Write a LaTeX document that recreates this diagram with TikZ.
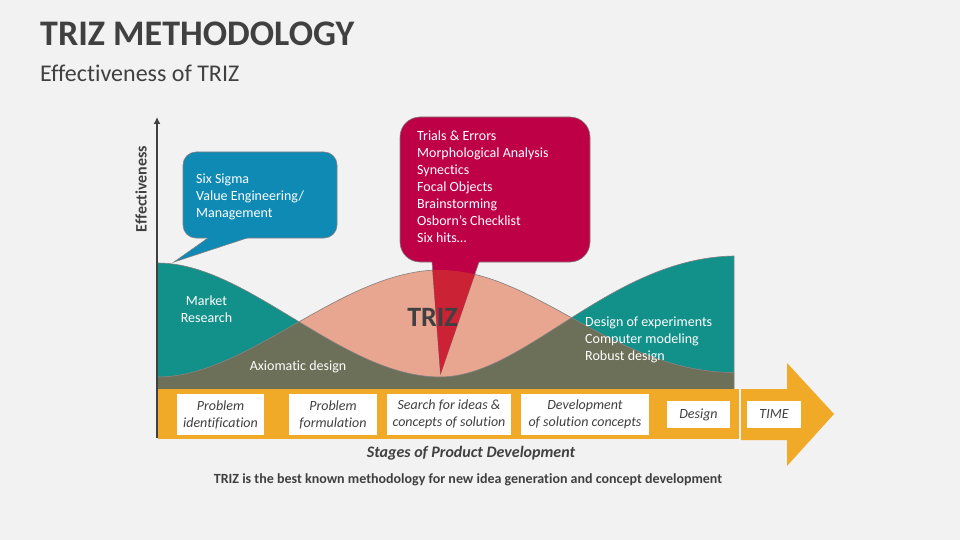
\documentclass[tikz,border=0pt]{standalone}
\usepackage{fontspec}
\setmainfont[Ligatures=NoCommon]{Carlito}
\usetikzlibrary{arrows.meta}
\definecolor{bgcol}{HTML}{F2F2F2}
\definecolor{txtcol}{HTML}{404040}
\definecolor{tealcol}{HTML}{12918A}
\definecolor{olivecol}{HTML}{6D7058}
\definecolor{salmoncol}{HTML}{E8A58F}
\definecolor{bluecol}{HTML}{0E8AB5}
\definecolor{crimsoncol}{HTML}{BE0046}
\definecolor{redcol}{HTML}{CB2335}
\definecolor{orangecol}{HTML}{F0AA27}
\tikzset{
  whitetxt/.style={text=white,inner sep=0pt,font=\fontsize{14}{17}\selectfont,align=left},
  stagebox/.style={fill=white,text=txtcol,inner sep=0pt,font=\fontsize{14}{17}\selectfont\itshape,align=center},
  callout/.style={draw=gray,line width=0.6pt,rounded corners=#1},
  tailline/.style={draw=gray,line width=0.6pt},
}
\newcommand{\curveone}{(158,263) .. controls (248,263) and (342,377) .. (440,377) .. controls (525,377) and (610,258) .. (734,256)}
\newcommand{\curvetwo}{(158,377) .. controls (248,377) and (342,270) .. (440,270) .. controls (535,270) and (615,372.5) .. (734,372.5)}
\begin{document}
\begin{tikzpicture}[x=1pt,y=-1pt]
  \fill[bgcol] (0,0) rectangle (960,540);
  \useasboundingbox (0,0) rectangle (960,540);
  \node[anchor=west,inner sep=0pt,text=txtcol,font=\fontsize{36}{40}\selectfont\bfseries] (title) at (40,34) {TRIZ METHODOLOGY};
  \node[anchor=west,inner sep=0pt,text=txtcol,font=\fontsize{24}{28}\selectfont] (subtitle) at (40,73) {Effectiveness of TRIZ};
  % hills
  \fill[tealcol] \curveone -- (734,389) -- (158,389) -- cycle;
  \fill[salmoncol] \curvetwo -- (734,389) -- (158,389) -- cycle;
  \begin{scope}
    \clip \curveone -- (734,389) -- (158,389) -- cycle;
    \fill[olivecol] \curvetwo -- (734,389) -- (158,389) -- cycle;
  \end{scope}
  \draw[gray,line width=0.6pt] \curveone -- (734,389);
  \draw[gray,line width=0.6pt] \curvetwo;
  % callouts
  \draw[callout=13,fill=bluecol] (183,152) rectangle (337,238);
  \draw[tailline,fill=bluecol] (208,238) -- (174,262) -- (247,238);
  \fill[bluecol] (207,235) rectangle (248,238.4);
  \draw[callout=20,fill=crimsoncol] (400,117) rectangle (590,262);
  \draw[tailline,fill=crimsoncol] (432,262) -- (440.5,374) -- (479,262);
  \fill[crimsoncol] (431,258) rectangle (480,262.4);
  \begin{scope}
    \clip \curvetwo -- (734,389) -- (158,389) -- cycle;
    \fill[redcol] (432,262) -- (440.5,374) -- (479,262) -- cycle;
  \end{scope}
  % bar and arrow
  \fill[orangecol] (158,389) rectangle (739,439);
  \fill[orangecol] (741,389) -- (787,389) -- (787,363) -- (834,414) -- (787,466) -- (787,440) -- (741,440) -- cycle;
  \coordinate (axisO) at (157,438);
  \coordinate (axisT) at (157,117);
  \draw[-{Latex[length=7pt,width=7pt]},line width=1.7pt,txtcol] (axisO) -- (axisT);
  % stages
  \node[stagebox,minimum width=87pt,minimum height=41pt] (stageA) at (220.5,414.5) {Problem\\identification};
  \node[stagebox,minimum width=88pt,minimum height=41pt] (stageB) at (333,414.5) {Problem\\formulation};
  \node[stagebox,minimum width=124pt,minimum height=41pt] (stageC) at (449,414.5) {Search for ideas \&\\concepts of solution};
  \node[stagebox,minimum width=128pt,minimum height=41pt] (stageD) at (585,414.5) {Development\\of solution concepts};
  \node[stagebox,minimum width=63pt,minimum height=27pt] (stageE) at (698.5,414.5) {Design};
  \node[stagebox,minimum width=54pt,minimum height=27pt] (stageF) at (774,414.5) {TIME};
  % labels
  \node[whitetxt,anchor=west] (sigma) at (196,197) {Six Sigma\\Value Engineering/\\Management};
  \node[whitetxt,anchor=west] (trials) at (417,186.5) {Trials \& Errors\\Morphological Analysis\\Synectics\\Focal Objects\\Brainstorming\\Osborn’s Checklist\\Six hits…};
  \node[whitetxt,align=center] (market) at (206.5,309) {Market\\Research};
  \node[whitetxt,align=center] (axiom) at (298,367) {Axiomatic design};
  \node[whitetxt,anchor=west] (doe) at (585,340) {Design of experiments\\Computer modeling\\Robust design};
  \node[inner sep=0pt,text=txtcol,font=\fontsize{28}{30}\selectfont\bfseries] (triz) at (432.5,317) {TRIZ};
  \node[rotate=90,inner sep=0pt,text=txtcol,font=\fontsize{16}{18}\selectfont\bfseries] (effect) at (141,189) {Effectiveness};
  \node[inner sep=0pt,text=txtcol,font=\fontsize{16}{18}\selectfont\bfseries\itshape] (stages) at (471,453) {Stages of Product Development};
  \node[inner sep=0pt,text=txtcol,font=\fontsize{14}{17}\selectfont\bfseries] (note) at (468,480) {TRIZ is the best known methodology for new idea generation and concept development};
\end{tikzpicture}
\end{document}
